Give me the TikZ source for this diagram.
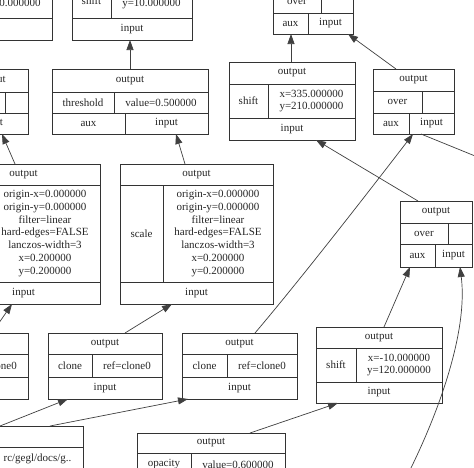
\documentclass[tikz,border=0pt]{standalone}
\usepackage{fontspec}
\setmainfont{Liberation Serif}
\usetikzlibrary{arrows.meta}
\tikzset{
  cell/.style={draw=black!80, line width=0.7pt, inner sep=0pt, outer sep=0pt, align=center,
    font=\fontsize{11}{12.7}\selectfont, text=black!85},
  arr/.style={draw=black!75, line width=0.7pt, -{Triangle[length=10pt,width=7pt]}},
  plainedge/.style={draw=black!75, line width=0.7pt}
}
\newcommand\recell[6]{\node[cell, minimum width={(#4)-(#2)}, minimum height={(#5)-(#3)}] (#1) at ({((#2)+(#4))/2},{((#3)+(#5))/2}) {#6};}
\begin{document}
\begin{tikzpicture}[x=1pt,y=-1pt]
\useasboundingbox (0,0) rectangle (474,467);
\fill[white] (0,0) rectangle (474,467);
\clip (0,0) rectangle (474,467);

% A (top-left partial)
\recell{A-val}{-29}{-16}{52}{18}{\mbox{}\\y=10.000000}
\recell{A-in}{-68}{18}{52}{40}{}
% B (shift)
\recell{B-op}{72}{-16}{111}{18}{shift}
\recell{B-val}{111}{-16}{192}{18}{\mbox{}\\y=10.000000}
\recell{B-in}{72}{18}{192}{40}{input}
% E (over, top)
\recell{E-op}{273}{-9}{321}{13}{over}
\recell{E-opv}{321}{-9}{353}{13}{}
\recell{E-aux}{273}{13}{308}{34}{aux}
\recell{E-in}{308}{13}{353}{34}{input}
% C (left partial)
\recell{C-out}{-45}{69}{28}{92}{output}
\recell{C-op}{-45}{92}{5}{113}{}
\recell{C-opv}{5}{92}{28}{113}{}
\recell{C-in}{-45}{113}{28}{134}{input}
% T (threshold)
\recell{T-out}{52}{69}{208}{92}{output}
\recell{T-op}{52}{92}{114}{113}{threshold}
\recell{T-val}{114}{92}{208}{113}{value=0.500000}
\recell{T-aux}{52}{113}{125}{134}{aux}
\recell{T-in}{125}{113}{208}{134}{input}
% D (shift 335,210)
\recell{D-out}{229}{62}{355}{84}{output}
\recell{D-op}{229}{84}{268}{118}{shift}
\recell{D-val}{268}{84}{355}{118}{x=335.000000\\y=210.000000}
\recell{D-in}{229}{118}{355}{140}{input}
% F (over)
\recell{F-out}{373}{69}{454}{91}{output}
\recell{F-op}{373}{91}{422}{113}{over}
\recell{F-opv}{422}{91}{454}{113}{}
\recell{F-aux}{373}{113}{409}{134}{aux}
\recell{F-in}{409}{113}{454}{134}{input}
% L (scale, left partial)
\recell{L-out}{-53}{164}{100}{185}{output}
\recell{L-op}{-53}{185}{-10}{282}{}
\recell{L-val}{-10}{185}{100}{282}{origin-x=0.000000\\origin-y=0.000000\\filter=linear\\hard-edges=FALSE\\lanczos-width=3\\x=0.200000\\y=0.200000}
\recell{L-in}{-53}{282}{100}{304}{input}
% R (scale)
\recell{R-out}{120}{164}{273}{185}{output}
\recell{R-op}{120}{185}{163}{282}{scale}
\recell{R-val}{163}{185}{273}{282}{origin-x=0.000000\\origin-y=0.000000\\filter=linear\\hard-edges=FALSE\\lanczos-width=3\\x=0.200000\\y=0.200000}
\recell{R-in}{120}{282}{273}{304}{input}
% G (over, right)
\recell{G-out}{400}{201}{472}{223}{output}
\recell{G-op}{400}{223}{448}{244}{over}
\recell{G-opv}{448}{223}{472}{244}{}
\recell{G-aux}{400}{244}{435}{267}{aux}
\recell{G-in}{435}{244}{472}{267}{input}
% K0 (clone, left partial)
\recell{K0-out}{-86}{333}{28}{354}{}
\recell{K0-op}{-86}{354}{-42}{377}{}
\recell{K0-val}{-42}{354}{28}{377}{ref=clone0}
\recell{K0-in}{-86}{377}{28}{399}{}
% K1 (clone)
\recell{K1-out}{48}{333}{162}{354}{output}
\recell{K1-op}{48}{354}{92}{377}{clone}
\recell{K1-val}{92}{354}{162}{377}{ref=clone0}
\recell{K1-in}{48}{377}{162}{399}{input}
% K2 (clone)
\recell{K2-out}{182}{333}{297}{354}{output}
\recell{K2-op}{182}{354}{227}{377}{clone}
\recell{K2-val}{227}{354}{297}{377}{ref=clone0}
\recell{K2-in}{182}{377}{297}{399}{input}
% H (shift -10,120)
\recell{H-out}{316}{327}{442}{348}{output}
\recell{H-op}{316}{348}{356}{382}{shift}
\recell{H-val}{356}{348}{442}{382}{x=-10.000000\\y=120.000000}
\recell{H-in}{316}{382}{442}{403}{input}
% P (load, bottom-left partial)
\recell{P-out}{-300}{426}{83}{447}{}
\recell{P-val}{-8}{447}{83}{471}{rc/gegl/docs/g..}
% O (opacity)
\recell{O-out}{137}{433}{285}{453}{output}
\recell{O-op}{137}{453}{191}{476}{opacity}
\recell{O-val}{191}{453}{285}{476}{value=0.600000}

\coordinate (offR) at (480,158);
\coordinate (offB) at (408,474);

% edges
\draw[arr] (T-out.north -| 130,0) -- (B-in.south -| 130,0);
\draw[arr] (R-out.north -| 185,0) -- (T-in.south -| 176,0);
\draw[arr] (L-out.north -| 15,0) -- (C-in.south -| 2,0);
\draw[arr] (D-out.north -| 291,0) -- (E-aux.south -| 291,0);
\draw[arr] (F-out.north -| 396,0) -- (E-in.south -| 348,0);
\draw[arr] (G-out.north -| 418,0) -- (D-in.south -| 316,0);
\draw[arr] (K2-out.north -| 255,0) .. controls (300,280) and (370,190) .. (F-in.south -| 413,0);
\draw[plainedge] (offR) -- (F-in.south -| 421,0);
\draw[arr] (H-out.north -| 384,0) -- (G-aux.south -| 410,0);
\draw[arr] (offB) .. controls (440,410) and (468,330) .. (G-in.south -| 460,0);
\draw[arr] (O-out.north -| 250,0) -- (H-in.south -| 338,0);
\draw[arr] (K0-out.north -| -8,0) -- (L-in.south -| 12,0);
\draw[arr] (K1-out.north -| 125,0) -- (R-in.south -| 172,0);
\draw[arr] (P-out.north -| 0,0) -- (K1-in.south -| 68,0);
\draw[arr] (P-out.north -| 50,0) -- (K2-in.south -| 188,0);
\end{tikzpicture}
\end{document}
